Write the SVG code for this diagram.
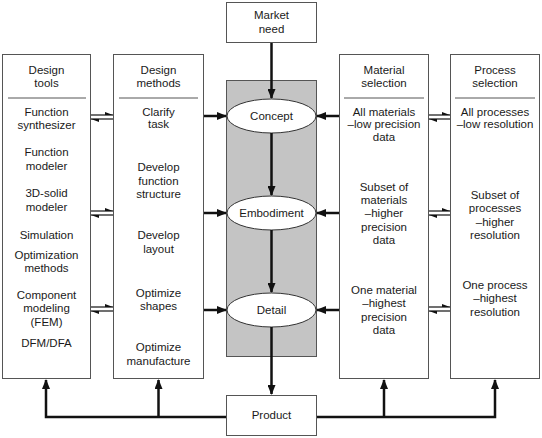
<svg xmlns="http://www.w3.org/2000/svg" width="542" height="438" viewBox="0 0 542 438">
<style>
.box{fill:#fff;stroke:#555;stroke-width:1}
.gray{fill:#c4c4c4;stroke:#555;stroke-width:1}
.ell{fill:#fff;stroke:#333;stroke-width:1}
.div{stroke:#555;stroke-width:1}
text{font-family:"Liberation Sans",Arial,sans-serif;font-size:11.5px;fill:#1a1a1a;text-anchor:middle}
.thick{stroke:#111;stroke-width:2.5;fill:none}
.thin{stroke:#111;stroke-width:1.2;fill:none}
</style>
<defs>
<marker id="ah" markerUnits="userSpaceOnUse" markerWidth="10" markerHeight="8" refX="9" refY="4" orient="auto"><path d="M0,0 L10,4 L0,8 z" fill="#111"/></marker>
<marker id="hp" markerUnits="userSpaceOnUse" markerWidth="8" markerHeight="4" refX="8" refY="3.5" orient="auto"><path d="M0,0.5 L8,3.5 L0,3.5 z" fill="#111"/></marker>
</defs>
<rect x="0" y="0" width="542" height="438" fill="#fff"/>

<g id="design-tools">
<rect class="box" x="2.5" y="54.5" width="88" height="324"/>
<line class="div" x1="8" y1="98" x2="86" y2="98"/>
<text x="46.5" y="74">Design</text><text x="46.5" y="87">tools</text>
<text x="46.5" y="116">Function</text><text x="46.5" y="129">synthesizer</text>
<text x="46.5" y="156">Function</text><text x="46.5" y="170">modeler</text>
<text x="46.5" y="197">3D-solid</text><text x="46.5" y="211">modeler</text>
<text x="46.5" y="239">Simulation</text>
<text x="46.5" y="259">Optimization</text><text x="46.5" y="272">methods</text>
<text x="46.5" y="299">Component</text><text x="46.5" y="312">modeling</text><text x="46.5" y="326">(FEM)</text>
<text x="46.5" y="347">DFM/DFA</text>
</g>

<g id="design-methods">
<rect class="box" x="113.5" y="54.5" width="90" height="324"/>
<line class="div" x1="119" y1="98" x2="198" y2="98"/>
<text x="158.5" y="74">Design</text><text x="158.5" y="87">methods</text>
<text x="158.5" y="116">Clarify</text><text x="158.5" y="128">task</text>
<text x="158.5" y="171">Develop</text><text x="158.5" y="185">function</text><text x="158.5" y="198">structure</text>
<text x="158.5" y="239">Develop</text><text x="158.5" y="253">layout</text>
<text x="158.5" y="297">Optimize</text><text x="158.5" y="310">shapes</text>
<text x="158.5" y="351">Optimize</text><text x="158.5" y="365">manufacture</text>
</g>

<g id="design-core">
<rect class="gray" x="226.5" y="80.5" width="90" height="276"/>
</g>

<g id="market-need">
<rect class="box" x="226.5" y="2.5" width="90" height="40"/>
<text x="271.5" y="19">Market</text><text x="271.5" y="33">need</text>
</g>

<g id="concept">
<ellipse class="ell" cx="271.5" cy="116" rx="44.5" ry="17"/>
<text x="271.5" y="120">Concept</text>
</g>
<g id="embodiment">
<ellipse class="ell" cx="271.5" cy="213" rx="44.5" ry="17"/>
<text x="271.5" y="217">Embodiment</text>
</g>
<g id="detail">
<ellipse class="ell" cx="271.5" cy="310" rx="44.5" ry="17"/>
<text x="271.5" y="314">Detail</text>
</g>

<g id="product">
<rect class="box" x="226.5" y="395.5" width="90" height="40"/>
<text x="271.5" y="419">Product</text>
</g>

<g id="material-selection">
<rect class="box" x="339.5" y="54.5" width="89" height="324"/>
<line class="div" x1="344" y1="98" x2="424" y2="98"/>
<text x="384" y="74">Material</text><text x="384" y="87">selection</text>
<text x="384" y="116">All materials</text><text x="384" y="128">–low precision</text><text x="384" y="141">data</text>
<text x="384" y="191">Subset of</text><text x="384" y="204">materials</text><text x="384" y="217">–higher</text><text x="384" y="231">precision</text><text x="384" y="244">data</text>
<text x="384" y="294">One material</text><text x="384" y="307">–highest</text><text x="384" y="321">precision</text><text x="384" y="334">data</text>
</g>

<g id="process-selection">
<rect class="box" x="450.5" y="54.5" width="89" height="324"/>
<line class="div" x1="455" y1="98" x2="535" y2="98"/>
<text x="495" y="74">Process</text><text x="495" y="87">selection</text>
<text x="495" y="116">All processes</text><text x="495" y="128">–low resolution</text>
<text x="495" y="199">Subset of</text><text x="495" y="212">processes</text><text x="495" y="226">–higher</text><text x="495" y="239">resolution</text>
<text x="495" y="289">One process</text><text x="495" y="302">–highest</text><text x="495" y="316">resolution</text>
</g>

<g id="connectors">
<line class="thick" x1="271.5" y1="43" x2="271.5" y2="98" marker-end="url(#ah)"/>
<line class="thick" x1="271.5" y1="133" x2="271.5" y2="195" marker-end="url(#ah)"/>
<line class="thick" x1="271.5" y1="230" x2="271.5" y2="292" marker-end="url(#ah)"/>
<line class="thick" x1="271.5" y1="327" x2="271.5" y2="394" marker-end="url(#ah)"/>

<line class="thick" x1="204" y1="116" x2="226" y2="116" marker-end="url(#ah)"/>
<line class="thick" x1="204" y1="213" x2="226" y2="213" marker-end="url(#ah)"/>
<line class="thick" x1="204" y1="310" x2="226" y2="310" marker-end="url(#ah)"/>
<line class="thick" x1="339" y1="116" x2="317" y2="116" marker-end="url(#ah)"/>
<line class="thick" x1="339" y1="213" x2="317" y2="213" marker-end="url(#ah)"/>
<line class="thick" x1="339" y1="310" x2="317" y2="310" marker-end="url(#ah)"/>

<line class="thin" x1="91" y1="115" x2="113" y2="115" marker-end="url(#hp)"/>
<line class="thin" x1="113" y1="119" x2="91" y2="119" marker-end="url(#hp)"/>
<line class="thin" x1="91" y1="211" x2="113" y2="211" marker-end="url(#hp)"/>
<line class="thin" x1="113" y1="215" x2="91" y2="215" marker-end="url(#hp)"/>
<line class="thin" x1="91" y1="307" x2="113" y2="307" marker-end="url(#hp)"/>
<line class="thin" x1="113" y1="311" x2="91" y2="311" marker-end="url(#hp)"/>

<line class="thin" x1="429" y1="115" x2="450" y2="115" marker-end="url(#hp)"/>
<line class="thin" x1="450" y1="119" x2="429" y2="119" marker-end="url(#hp)"/>
<line class="thin" x1="429" y1="211" x2="450" y2="211" marker-end="url(#hp)"/>
<line class="thin" x1="450" y1="215" x2="429" y2="215" marker-end="url(#hp)"/>
<line class="thin" x1="429" y1="307" x2="450" y2="307" marker-end="url(#hp)"/>
<line class="thin" x1="450" y1="311" x2="429" y2="311" marker-end="url(#hp)"/>

<polyline class="thick" points="226,417 46,417 46,380" marker-end="url(#ah)"/>
<line class="thick" x1="158.5" y1="417" x2="158.5" y2="380" marker-end="url(#ah)"/>
<polyline class="thick" points="317,417 495,417 495,380" marker-end="url(#ah)"/>
<line class="thick" x1="384" y1="417" x2="384" y2="380" marker-end="url(#ah)"/>
</g>
</svg>
